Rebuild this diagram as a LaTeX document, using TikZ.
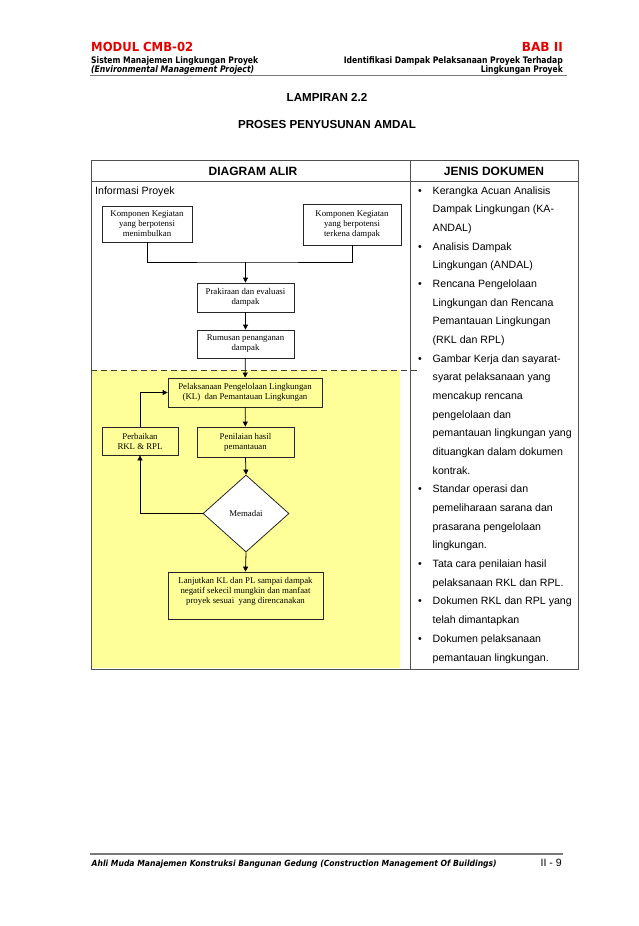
\documentclass[tikz,border=0pt]{standalone}
\usepackage{fontspec}
\usepackage{graphicx}
\setmainfont{Liberation Serif}
\newfontfamily\arial{Liberation Sans}
\newfontfamily\tah{DejaVu Sans}
\usetikzlibrary{arrows.meta,shapes.geometric}
\definecolor{hdrred}{RGB}{230,0,0}
\definecolor{pale}{RGB}{255,255,153}
\definecolor{rulegray}{RGB}{120,120,120}
\definecolor{tabline}{RGB}{80,80,80}
\newcommand{\fitw}[2]{\resizebox{#1}{\height}{#2}}
\begin{document}
\begin{tikzpicture}[x=1pt,y=-1pt,
  hdr/.style={inner sep=0, font=\tah\bfseries\fontsize{9}{10}\selectfont},
  fbox/.style={draw=black!85, line width=0.8pt, inner sep=0, align=center,
    font=\fontsize{8.8}{10}\selectfont},
  arr/.style={line width=0.8pt, -{Triangle[length=5pt,width=5pt]}},
  conn/.style={line width=0.8pt},
  doc/.style={anchor=base west, inner sep=0, font=\arial\fontsize{10.6}{12}\selectfont},
  bul/.style={anchor=base west, inner sep=0, font=\arial\fontsize{10.6}{12}\selectfont},
  ttl/.style={anchor=base, inner sep=0, font=\arial\bfseries\fontsize{11.6}{13}\selectfont}]
\useasboundingbox (0,0) rectangle (638,926);
\fill[white] (0,0) rectangle (638,926);

% ---------- page header ----------
\node[hdr, anchor=base west, text=hdrred, font=\tah\bfseries\fontsize{12.5}{14}\selectfont] (modul) at (91,51) {\fitw{102pt}{MODUL CMB-02}};
\node[hdr, anchor=base east, text=hdrred, font=\tah\bfseries\fontsize{12.5}{14}\selectfont] (bab) at (563,51) {\fitw{41pt}{BAB II}};
\node[hdr, anchor=base west] (sis) at (91,63.3) {\fitw{167pt}{Sistem Manajemen Lingkungan Proyek}};
\node[hdr, anchor=base east] (idf) at (563,63.3) {\fitw{219pt}{Identifikasi Dampak Pelaksanaan Proyek Terhadap}};
\node[hdr, anchor=base west, font=\tah\bfseries\itshape\fontsize{9}{10}\selectfont] (env) at (91,72) {\fitw{163pt}{(Environmental Management Project)}};
\node[hdr, anchor=base east] (lp) at (563,72) {\fitw{82pt}{Lingkungan Proyek}};
\draw[rulegray, line width=1.5pt] (90,75.5) -- (567,75.5);

% ---------- titles ----------
\node[ttl] (lamp) at (327,101.7) {LAMPIRAN 2.2};
\node[ttl] (proses) at (327,128.3) {PROSES PENYUSUNAN AMDAL};

% ---------- table ----------
\fill[pale] (92,370) rectangle (400,668);
\draw[tabline, line width=0.8pt] (91,160) rectangle (578,669);
\draw[tabline, line width=0.8pt] (91,181) -- (578,181);
\draw[tabline, line width=0.8pt] (410,160) -- (410,669);
\draw[black!75, line width=0.8pt, dash pattern=on 6pt off 4pt] (91,370.5) -- (420,370.5);
\node[ttl, font=\arial\bfseries\fontsize{12}{14}\selectfont] (da) at (253,175) {DIAGRAM ALIR};
\node[ttl, font=\arial\bfseries\fontsize{12}{14}\selectfont] (jd) at (494,175) {JENIS DOKUMEN};
\node[doc] (info) at (95,194) {Informasi Proyek};

% ---------- flow chart ----------
\node[fbox, minimum width=90pt, minimum height=36pt] (k1) at (147,224) {Komponen Kegiatan\\yang berpotensi\\menimbulkan};
\node[fbox, minimum width=98pt, minimum height=41pt] (k2) at (352,224.5) {Komponen Kegiatan\\yang berpotensi\\terkena dampak};
\node[fbox, fill=white, minimum width=97pt, minimum height=29pt] (pk) at (245.5,297.5) {Prakiraan dan evaluasi\\dampak};
\node[fbox, fill=white, minimum width=97pt, minimum height=28pt] (rm) at (245.5,344) {Rumusan penanganan\\dampak};
\node[fbox, minimum width=154pt, minimum height=29pt] (pl) at (245,392.5) {Pelaksanaan Pengelolaan Lingkungan\\(KL)\ \ dan Pemantauan Lingkungan};
\node[fbox, minimum width=76pt, minimum height=28pt] (pb) at (140,441) {Perbaikan\\RKL \& RPL};
\node[fbox, minimum width=97pt, minimum height=30pt] (pn) at (245.5,442) {Penilaian hasil\\pemantauan};
\node[fbox, shape=diamond, fill=white, aspect=1.117, minimum width=86pt, minimum height=77pt] (md) at (246,513.5) {Memadai};
\node[fbox, minimum width=155pt, minimum height=47pt, text depth=10pt] (lj) at (245.5,595.5) {Lanjutkan KL dan PL sampai dampak\\negatif sekecil mungkin dan manfaat\\proyek sesuai\ \ yang direncanakan};

\coordinate (j) at (245.5,262);
\draw[conn] (k1.south) |- (j) -| (k2.south);
\draw[arr] (j) -- (pk.north);
\draw[arr] (pk) -- (rm);
\draw[arr] (rm) -- (pl);
\draw[arr] (pl) -- (pn);
\draw[arr] (pn.south) -- (md.north);
\draw[arr] (md.south) -- (lj.north);
\draw[arr] (md.west) -| (pb.south);
\draw[arr] (pb.north) |- (pl.west);

% ---------- document list ----------
\foreach \t [count=\i from 0] in {
  Kerangka Acuan Analisis, Dampak Lingkungan (KA-, ANDAL),
  Analisis Dampak, Lingkungan (ANDAL),
  Rencana Pengelolaan, Lingkungan dan Rencana, Pemantauan Lingkungan, (RKL dan RPL),
  Gambar Kerja dan sayarat-, syarat pelaksanaan yang, mencakup rencana, pengelolaan dan,
  pemantauan lingkungan yang, dituangkan dalam dokumen, kontrak.,
  Standar operasi dan, pemeliharaan sarana dan, prasarana pengelolaan, lingkungan.,
  Tata cara penilaian hasil, pelaksanaan RKL dan RPL.,
  Dokumen RKL dan RPL yang, telah dimantapkan,
  Dokumen pelaksanaan, pemantauan lingkungan.}
  {\node[doc] (t\i) at (432.5,{194+18.68*\i}) {\t};}
\foreach \i in {0,3,5,9,16,20,22,24}
  {\node[bul] (b\i) at (418,{194+18.68*\i}) {•};}

% ---------- page footer ----------
\draw[rulegray, line width=1.5pt] (90,854) -- (563,854);
\node[hdr, anchor=base west, font=\tah\bfseries\itshape\fontsize{8.5}{10}\selectfont] (foot) at (91.5,866) {\fitw{405pt}{Ahli Muda Manajemen Konstruksi Bangunan Gedung (Construction Management Of Buildings)}};
\node[doc, anchor=base east] (pg) at (562,866) {II - 9};
\end{tikzpicture}
\end{document}
